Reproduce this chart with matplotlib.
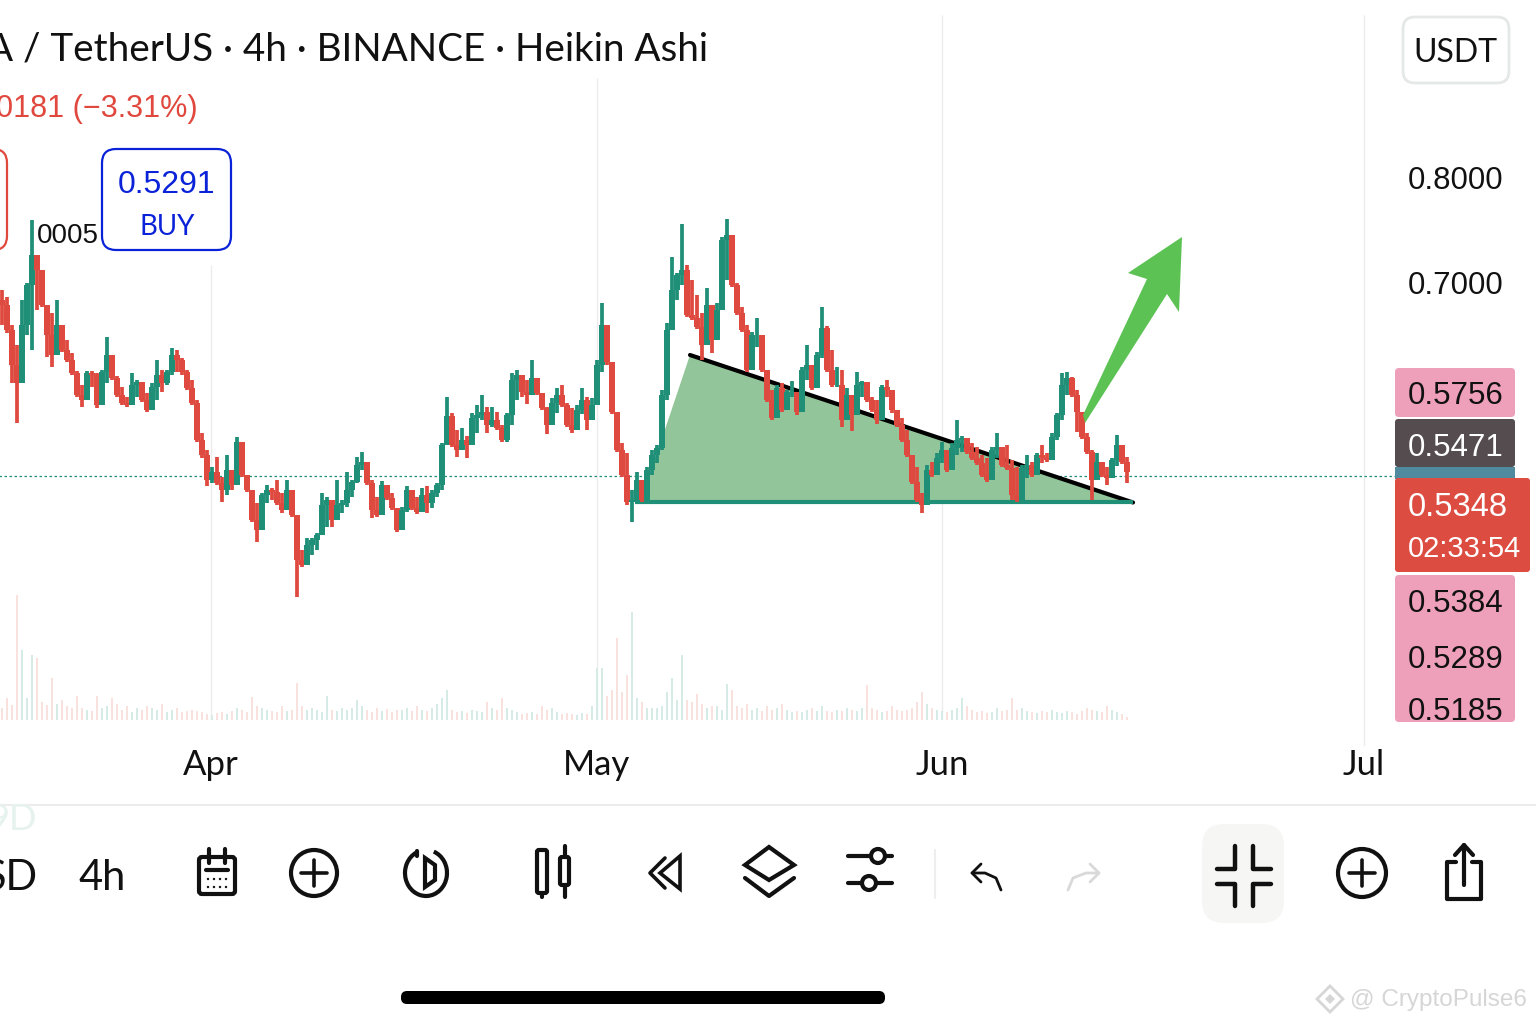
import matplotlib
matplotlib.use('Agg')
import matplotlib.pyplot as plt
from matplotlib.patches import FancyBboxPatch, Polygon, Circle, Arc, Rectangle
from matplotlib.ticker import FixedLocator, FixedFormatter, NullLocator

# 4h Heikin Ashi candles (one value every second or so bar)
first_open = 0.6841
close = [
    .6798, .6585, .6299, .6157, .6628, .6973, .7244, .7107, .6798, .6544,
    .6380, .6628, .6420, .6339, .6235, .6064, .6025, .6235, .6220, .5987,
    .6243, .6380, .6196, .6064, .6002, .5987, .6141, .6164, .6025, .5949,
    .6125, .6220, .6157, .6243, .6380, .6339, .6243, .6118, .6002, .5726,
    .5618, .5442, .5498, .5422, .5374, .5512, .5408, .5712, .5477, .5374,
    .5173, .5107, .5340, .5374, .5360, .5286, .5239, .5374, .5206, .4916,
    .4885, .5011, .5043, .5075, .5273, .5306, .5173, .5273, .5286, .5374,
    .5428, .5547, .5568, .5422, .5239, .5206, .5408, .5320, .5253, .5107,
    .5239, .5374, .5253, .5226, .5340, .5286, .5353, .5408, .5690, .5904,
    .5690, .5654, .5726, .5690, .5889, .5912, .5934, .5836, .5874, .5814,
    .5726, .5912, .6180, .6220, .6087, .6064, .6196, .6079, .5964, .5836,
    .6002, .6064, .5987, .5836, .5799, .5949, .6025, .5874, .5987, .6299,
    .6628, .6323, .5934, .5654, .5477, .5293, .5306, .5442, .5306, .5512,
    .5618, .5668, .6064, .6585, .6929, .7062, .7107, .6712, .6687, .6611,
    .6461, .6798, .6502, .6755, .7384, .7431, .6973, .6730, .6585, .6259,
    .6544, .6544, .6259, .6025, .5889, .6118, .5949, .6087, .6087, .5934,
    .6259, .6299, .6118, .6380, .6602, .6259, .6141, .6141, .5874, .6064,
    .5912, .6141, .6164, .6025, .5949, .5874, .6125, .6102, .5949, .5836,
    .5726, .5618, .5428, .5306, .5273, .5512, .5477, .5597, .5654, .5512,
    .5668, .5726, .5740, .5640, .5597, .5561, .5477, .5442, .5654, .5676,
    .5547, .5526, .5340, .5306, .5526, .5547, .5477, .5618, .5597, .5582,
    .5748, .5912, .6141, .6196, .6064, .5934, .5748, .5640, .5442, .5568,
    .5477, .5456, .5582, .5690, .5568, .5498,
]
high = [
    .6929, .6867, .6628, .6461, .6841, .6990, .7574, .7244, .7017, .6781,
    .6730, .6841, .6602, .6502, .6396, .6251, .6141, .6251, .6251, .6235,
    .6259, .6527, .6355, .6212, .6125, .6048, .6235, .6180, .6141, .6079,
    .6157, .6339, .6259, .6259, .6436, .6420, .6355, .6259, .6180, .6025,
    .5777, .5654, .5533, .5604, .5463, .5618, .5512, .5748, .5618, .5477,
    .5340, .5286, .5353, .5408, .5387, .5442, .5353, .5442, .5374, .5173,
    .4979, .5056, .5056, .5088, .5353, .5327, .5299, .5442, .5306, .5498,
    .5442, .5604, .5640, .5547, .5442, .5327, .5435, .5401, .5353, .5239,
    .5259, .5401, .5340, .5327, .5387, .5401, .5374, .5422, .5704, .6048,
    .5927, .5799, .5814, .5755, .5927, .5987, .6064, .5972, .5972, .5934,
    .5836, .5927, .6235, .6259, .6220, .6180, .6339, .6164, .6079, .5972,
    .6040, .6118, .6141, .6002, .5964, .5987, .6118, .6048, .6040, .6339,
    .6815, .6560, .6259, .5927, .5704, .5633, .5374, .5498, .5442, .5533,
    .5654, .5690, .6102, .6645, .7225, .7080, .7536, .7152, .7017, .6885,
    .6730, .6947, .6798, .6815, .7412, .7584, .7356, .6990, .6781, .6628,
    .6569, .6687, .6527, .6259, .6102, .6141, .6157, .6102, .6172, .6087,
    .6283, .6461, .6299, .6404, .6781, .6619, .6420, .6283, .6259, .6118,
    .6025, .6243, .6172, .6164, .6048, .6025, .6141, .6180, .6102, .5949,
    .5889, .5799, .5582, .5533, .5353, .5547, .5568, .5633, .5712, .5654,
    .5704, .5874, .5755, .5740, .5704, .5676, .5618, .5597, .5676, .5777,
    .5654, .5690, .5582, .5533, .5547, .5618, .5568, .5633, .5690, .5633,
    .5777, .5927, .6235, .6243, .6204, .6102, .5912, .5777, .5654, .5633,
    .5561, .5533, .5597, .5762, .5690, .5604,
]
low = [
    .6628, .6560, .6157, .5851, .6220, .6544, .6420, .6755, .6781, .6363,
    .6283, .6445, .6404, .6323, .6220, .6048, .5972, .6048, .6125, .5964,
    .6087, .6157, .6180, .6048, .5987, .5972, .6048, .6048, .6010, .5934,
    .5964, .6025, .6087, .6141, .6220, .6243, .6220, .6102, .5987, .5712,
    .5597, .5401, .5422, .5408, .5293, .5340, .5374, .5442, .5463, .5360,
    .5160, .5030, .5140, .5286, .5306, .5273, .5220, .5320, .5193, .4690,
    .4873, .4885, .4947, .4979, .5075, .5127, .5127, .5173, .5220, .5259,
    .5327, .5422, .5512, .5408, .5186, .5193, .5226, .5306, .5239, .5094,
    .5120, .5226, .5239, .5213, .5239, .5220, .5253, .5327, .5374, .5690,
    .5676, .5604, .5676, .5597, .5704, .5777, .5874, .5777, .5821, .5799,
    .5712, .5712, .5836, .6025, .6048, .5995, .6079, .6064, .5949, .5770,
    .5859, .5927, .5972, .5821, .5777, .5844, .5919, .5799, .5874, .6048,
    .6243, .6299, .5919, .5640, .5463, .5273, .5160, .5293, .5293, .5346,
    .5477, .5561, .5654, .6025, .6585, .6841, .6973, .6695, .6670, .6594,
    .6339, .6585, .6396, .6527, .6781, .7017, .6955, .6712, .6569, .6243,
    .6404, .6445, .6243, .6010, .5874, .5934, .5934, .5949, .6048, .5912,
    .5972, .6180, .6102, .6243, .6355, .6243, .6125, .6125, .5821, .5889,
    .5792, .5949, .6048, .6010, .5934, .5844, .5949, .6048, .5927, .5821,
    .5712, .5604, .5415, .5293, .5220, .5360, .5463, .5498, .5561, .5498,
    .5547, .5618, .5640, .5625, .5582, .5547, .5463, .5428, .5477, .5597,
    .5533, .5512, .5306, .5293, .5320, .5456, .5463, .5526, .5561, .5568,
    .5618, .5726, .5874, .6064, .6048, .5785, .5733, .5625, .5306, .5456,
    .5463, .5408, .5463, .5540, .5554, .5422,
]
volume = [
    12, 22, 15, 125, 70, 22, 65, 62, 18, 15,
    42, 16, 20, 14, 12, 24, 12, 10, 9, 24,
    12, 14, 22, 16, 10, 14, 8, 12, 10, 14,
    12, 10, 16, 8, 10, 12, 8, 9, 10, 9,
    8, 6, 5, 7, 8, 6, 9, 12, 10, 8,
    23, 14, 12, 10, 9, 8, 14, 9, 10, 37,
    14, 10, 12, 10, 8, 24, 10, 9, 12, 10,
    12, 20, 14, 10, 8, 12, 9, 11, 8, 10,
    10, 12, 9, 14, 10, 9, 12, 16, 22, 30,
    10, 8, 9, 7, 10, 9, 8, 18, 12, 10,
    22, 12, 10, 8, 6, 7, 8, 6, 14, 10,
    12, 8, 6, 7, 6, 5, 7, 6, 14, 52,
    52, 24, 30, 82, 28, 45, 108, 22, 18, 12,
    12, 12, 14, 28, 42, 20, 65, 20, 18, 26,
    16, 12, 14, 14, 10, 36, 30, 14, 12, 16,
    10, 12, 9, 14, 10, 12, 16, 10, 8, 9,
    8, 10, 12, 9, 14, 9, 8, 10, 9, 12,
    10, 9, 12, 35, 12, 10, 8, 9, 14, 10,
    9, 10, 12, 18, 28, 16, 12, 10, 9, 8,
    10, 12, 22, 14, 10, 8, 9, 7, 8, 12,
    9, 10, 22, 10, 12, 9, 8, 7, 9, 8,
    10, 8, 7, 9, 8, 6, 9, 12, 10, 9,
    8, 14, 10, 8, 6, 3,
]

month_labels = ['Apr', 'May', 'Jun', 'Jul']
month_bars = [41.8, 119.0, 188.0, 272.4]   # bar index where the month starts
month_line_top = [0.7152, 0.9073, 0.9830, 0.9830]
price_ticks = [0.8, 0.7]
price_tick_labels = ['0.8000', '0.7000']

last_marker = 0.5471
support = 0.5289
wedge_bars = [127.6, 133.2, 137.6, 226.2]
wedge_prices = [support, 0.5870, 0.6380, support]

GREEN = '#1f8f77'
RED = '#de4a3f'
NARROW = ['Lato', 'Liberation Sans', 'DejaVu Sans']
WIDE = ['Liberation Sans', 'DejaVu Sans']

W, H = 1536, 1024
fig = plt.figure(figsize=(W / 100, H / 100), dpi=100, facecolor='white')

# price pane, y log so that 0.8 and 0.7 land where they do on the phone
ax = fig.add_axes([0, 1 - 720 / H, 1, 720 / H])
ax.set_yscale('log')
ax.set_xlim(-0.4, 306.8)
ax.set_ylim(0.4011, 1.002)
for s in ax.spines.values():
    s.set_visible(False)
ax.patch.set_alpha(0)

opens = [first_open] + close[:-1]
idx = list(range(len(close)))
colors = [GREEN if c >= o else RED for o, c in zip(opens, close)]
bottoms = [min(o, c) for o, c in zip(opens, close)]
heights = [abs(c - o) for o, c in zip(opens, close)]

# Draw month lines
for m, top in zip(month_bars, month_line_top):
    ax.vlines(m, 0.4011, top, color='#ececec', lw=1, zorder=1)

ax.hlines(last_marker, -1, 279, color=GREEN, lw=0.9, linestyles=(0, (2, 2)), zorder=2)

# Draw wedge below candles
ax.add_patch(Polygon(list(zip(wedge_bars, wedge_prices)), closed=True, fc='#93c59b', ec='none', zorder=2))
ax.plot(wedge_bars[2:], wedge_prices[2:], color='black', lw=3, solid_capstyle='round', zorder=3)
ax.hlines(support, 126.5, 226.2, color=GREEN, lw=3, zorder=3)

# Draw candles
ax.vlines(idx, low, high, colors=colors, lw=2.7, zorder=4)
ax.bar(idx, heights, bottom=bottoms, width=1.1, color=colors, linewidth=0, zorder=4)

ax.yaxis.tick_right()
ax.yaxis.set_major_locator(FixedLocator(price_ticks))
ax.yaxis.set_major_formatter(FixedFormatter(price_tick_labels))
ax.yaxis.set_minor_locator(NullLocator())
ax.set_xticks(month_bars)
ax.set_xticklabels(month_labels)
ax.tick_params(axis='both', length=0)
ax.tick_params(axis='y', pad=-92.5, labelsize=22.5, labelcolor='#111111')
ax.tick_params(axis='x', pad=21, labelsize=25, labelcolor='#111111')
for t in ax.get_xticklabels():
    t.set_family(NARROW)
for t in ax.get_yticklabels():
    t.set_family(WIDE)
    t.set_ha('left')

# volume pane
vax = fig.add_axes([0, 1 - 720 / H, 1, 130 / H])
vax.set_xlim(-0.4, 306.8)
vax.set_ylim(0, 130)
vax.axis('off')
vcolors = ['#d6ebe5' if c == GREEN else '#f9e1de' for c in colors]
vax.bar(idx, volume, width=0.3, color=vcolors, linewidth=0)

# phone chrome, in pixels
ui = fig.add_axes([0, 0, 1, 1])
ui.set_xlim(0, W)
ui.set_ylim(H, 0)
ui.axis('off')
ui.patch.set_alpha(0)


def box(x0, y0, x1, y1, fc='none', ec='none', lw=1.5, r=4):
    ui.add_patch(FancyBboxPatch((x0 + r, y0 + r), x1 - x0 - 2 * r, y1 - y0 - 2 * r,
                                boxstyle=f'round,pad={r},rounding_size={r}', fc=fc, ec=ec, lw=lw))


def txt(x, y, s, size, color='#111111', ha='left', family=NARROW):
    ui.text(x, y, s, fontsize=size, color=color, ha=ha, va='center', family=family)


def line(xs, ys, color='#111111', lw=3):
    ui.plot(xs, ys, color=color, lw=lw, solid_capstyle='round', solid_joinstyle='round')


def plus_circle(x, y, r):
    ui.add_patch(Circle((x, y), r, fc='none', ec='#111111', lw=3))
    line([x - r * 0.55, x + r * 0.55], [y, y], lw=2.6)
    line([x, x], [y - r * 0.55, y + r * 0.55], lw=2.6)


# header
txt(708, 50, 'A / TetherUS · 4h · BINANCE · Heikin Ashi', 27.8, ha='right')
txt(198, 109, '0181 (−3.31%)', 22, color='#e0483e', ha='right', family=WIDE)
box(-40, 149, 7, 250, ec='#e0483e', lw=1.6, r=14)
box(102, 149, 231, 250, fc='white', ec='#0a22d8', lw=1.6, r=14)
txt(167, 185, '0.5291', 23, color='#0a22d8', ha='center', family=WIDE)
txt(167, 227, 'BUY', 20, color='#0a22d8', ha='center')
txt(37, 236, '0005', 20, family=WIDE)
box(1403, 17, 1509, 83, ec='#e4e8e7', lw=2, r=12)
txt(1455, 53, 'USDT', 23, ha='center')

# green arrow
ui.add_patch(Polygon([(1083, 415), (1147, 279), (1128, 273), (1182, 237),
                      (1179, 312), (1167, 294), (1085, 423)], closed=True, fc='#5cc254', ec='none'))

# price tags on the right
box(1395, 368, 1515, 417, fc='#ee9fb9', r=4)
box(1395, 419, 1515, 467, fc='#544c4e', r=3)
ui.add_patch(Rectangle((1395, 467), 120, 12, fc='#4f8a9e', ec='none'))
box(1395, 478, 1530, 572, fc='#dc4c41', r=3)
box(1395, 575, 1515, 722, fc='#ee9fb9', r=4)
txt(1408, 396, '0.5756', 22.5, family=WIDE)
txt(1408, 448, '0.5471', 22.5, color='white', family=WIDE)
txt(1408, 507, '0.5348', 23.5, color='white', family=WIDE)
txt(1408, 549, '02:33:54', 21, color='white', family=WIDE)
txt(1408, 604, '0.5384', 22.5, family=WIDE)
txt(1408, 660, '0.5289', 22.5, family=WIDE)
txt(1408, 712, '0.5185', 22.5, family=WIDE)

# toolbar
line([0, W], [805, 805], color='#ececec', lw=1.5)
line([1364, 1364], [720, 745], color='#ececec', lw=1)
txt(37, 819, '9D', 26, color='#e6f2ee', ha='right')
txt(38, 878, 'SD', 30, ha='right')
txt(78, 878, '4h', 30)

box(199, 857, 235, 894, ec='#111111', lw=3, r=3)
line([209, 209], [849, 863])
line([225, 225], [849, 863])
line([206, 228], [870, 870], lw=3)
for px in (208, 214, 220, 226):
    for py in (879, 887):
        ui.add_patch(Circle((px, py), 1.2, fc='#111111', ec='none'))

plus_circle(314, 873, 23)

ui.add_patch(Arc((426, 873), 42, 46, theta1=-70 + 360, theta2=-115 + 360, ec='#111111', lw=3))
line([417, 417], [851, 856])
ui.add_patch(Polygon([(425, 858), (435, 865), (435, 880), (425, 887)], closed=True, fc='none', ec='#111111', lw=3))

box(537, 850, 547, 893, ec='#111111', lw=3, r=2)
box(560, 857, 569, 885, ec='#111111', lw=3, r=2)
line([565, 565], [846, 857])
line([565, 565], [885, 897])
line([542, 542], [893, 897])

ui.add_patch(Polygon([(680, 856), (680, 889), (660, 873)], closed=True, fc='none', ec='#111111', lw=2.6))
line([665, 650, 665], [858, 873, 888], lw=2.6)

ui.add_patch(Polygon([(769, 847), (794, 865), (769, 880), (745, 865)], closed=True, fc='none', ec='#111111', lw=3))
line([745, 769, 794], [878, 896, 878])

line([848, 892], [856, 856])
line([848, 892], [883, 883])
ui.add_patch(Circle((878, 856), 7, fc='white', ec='#111111', lw=3, zorder=3))
ui.add_patch(Circle((869, 883), 7, fc='white', ec='#111111', lw=3, zorder=3))

line([935, 935], [850, 898], color='#eeeeee', lw=1.5)

# undo and redo
line([981, 972, 981], [864, 873, 882], lw=2)
line([972, 985, 996, 1001], [873, 873, 878, 890], lw=2)
line([1090, 1099, 1090], [864, 873, 882], color='#d9d9d9', lw=2)
line([1099, 1086, 1073, 1068], [873, 873, 878, 890], color='#d9d9d9', lw=2)

box(1202, 824, 1284, 923, fc='#f6f6f4', r=22)
line([1235, 1235, 1217], [846, 869, 869], lw=3.2)
line([1253, 1253, 1271], [846, 869, 869], lw=3.2)
line([1217, 1235, 1235], [884, 884, 906], lw=3.2)
line([1271, 1253, 1253], [884, 884, 906], lw=3.2)

plus_circle(1362, 873, 24)

line([1456, 1447, 1447, 1481, 1481, 1472], [862, 862, 899, 899, 862, 862])
line([1464, 1464], [885, 845])
line([1455, 1464, 1473], [855, 845, 855])

# home bar and watermark
box(401, 991, 885, 1004, fc='black', r=6)
txt(1350, 1000, '@ CryptoPulse6', 17.5, color='#d6d6d6', family=WIDE)
ui.add_patch(Polygon([(1330, 986), (1343, 999), (1330, 1012), (1317, 999)], closed=True, fc='none', ec='#d6d6d6', lw=2))
ui.add_patch(Polygon([(1330, 994), (1335, 999), (1330, 1004), (1325, 999)], closed=True, fc='#d6d6d6', ec='none'))

fig.savefig('out.png', dpi=100)
plt.close(fig)
